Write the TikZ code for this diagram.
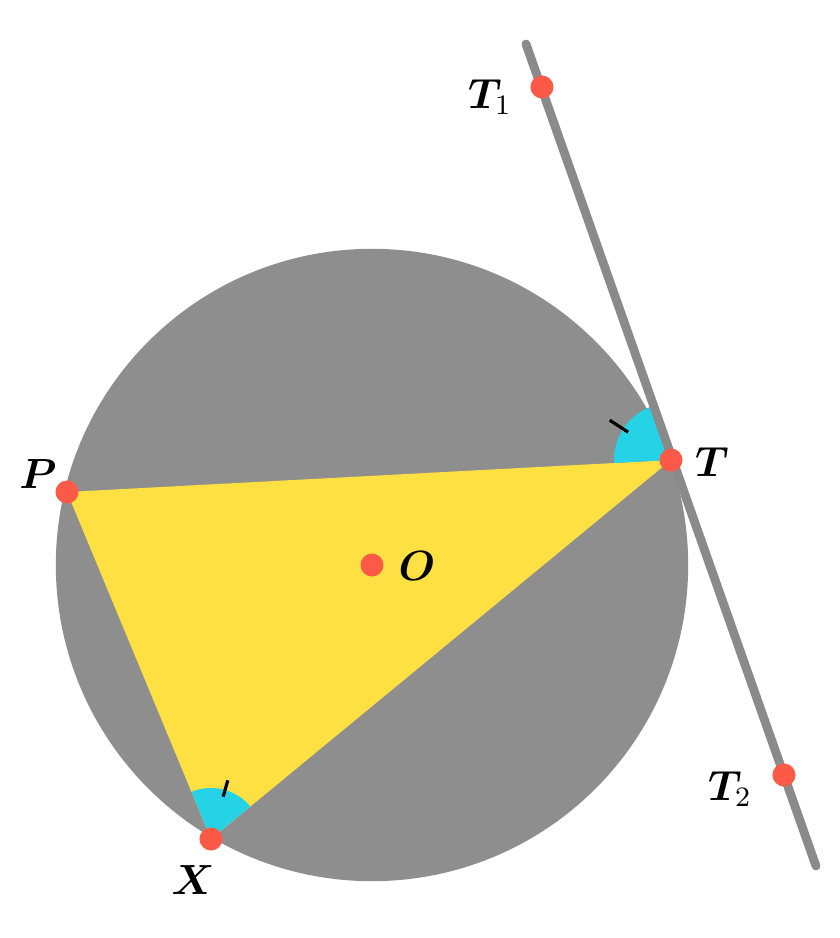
\documentclass[tikz,border=0pt]{standalone}
\usepackage{amsmath}
\usepackage{amssymb}
\usepackage{bm}
\usepackage{tikz}

\definecolor{cinza}{HTML}{8E8E8E}
\definecolor{amarelo}{HTML}{FFE042}
\definecolor{ciano}{HTML}{26D3E6}
\definecolor{vermelho}{HTML}{FC5A47}

\tikzset{
  ponto/.style={circle, fill=vermelho, inner sep=0pt, minimum size=0.23cm},
  rotulo/.style={font=\large},
  marca/.style={line width=0.9pt, black}
}

\begin{document}
\begin{tikzpicture}[x=0.01cm, y=0.01cm]
  \useasboundingbox (0, 0) rectangle (840, 938);

  % Circulo
  \fill[cinza] (372, 373) circle (3.16cm);
  \node[inner sep=0pt] (O) at (372, 373) {};

  % Pontos do triangulo
  \node[inner sep=0pt] (P) at (67, 446) {};
  \node[inner sep=0pt] (T) at (671, 478) {};
  \node[inner sep=0pt] (X) at (211, 99) {};
  \fill[amarelo] (P.center) -- (T.center) -- (X.center) -- cycle;

  % Angulos
  \fill[ciano] (T.center) -- ++(109:0.57cm) arc (109:183:0.57cm) -- cycle;
  \draw[marca] ([shift={(147:0.51cm)}]T.center) -- ([shift={(147:0.73cm)}]T.center);
  \fill[ciano] (X.center) -- ++(39.5:0.51cm) arc (39.5:112.5:0.51cm) -- cycle;
  \draw[marca] ([shift={(74:0.44cm)}]X.center) -- ([shift={(74:0.61cm)}]X.center);

  % Reta tangente
  \coordinate (A) at (526, 894);
  \coordinate (B) at (816, 72);
  \draw[cinza!97!black, line width=2.5pt, line cap=round] (A) -- (B);

  % Pontos
  \node[ponto] (p1) at (P) {};
  \node[ponto] (p2) at (T) {};
  \node[ponto] (p3) at (X) {};
  \node[ponto] (p4) at (O) {};
  \node[ponto] (t1) at (542, 851) {};
  \node[ponto] (t2) at (784, 163) {};

  % Rotulos
  \node[rotulo] (lP) at (38, 464) {$\bm{P}$};
  \node[rotulo] (lT) at (712, 476) {$\bm{T}$};
  \node[rotulo] (lO) at (417, 372) {$\bm{O}$};
  \node[rotulo] (lX) at (193, 58) {$\bm{X}$};
  \node[rotulo] (lT1) at (490, 841) {$\bm{T}_1$};
  \node[rotulo] (lT2) at (730, 149) {$\bm{T}_2$};
\end{tikzpicture}
\end{document}
